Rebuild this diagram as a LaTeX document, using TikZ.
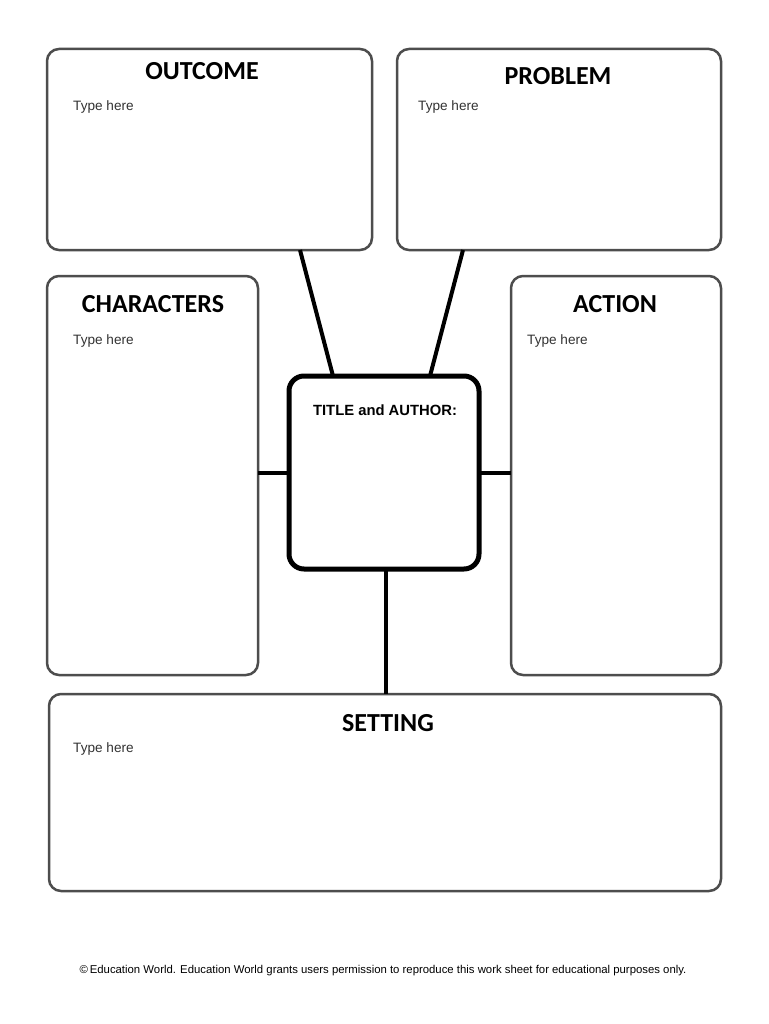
\documentclass[tikz,border=0pt]{standalone}
\usepackage{fontspec}
\setmainfont{Liberation Sans}
\newfontfamily\headfont{Carlito}
\usetikzlibrary{calc}
\definecolor{boxgray}{HTML}{4D4D4D}
\definecolor{txtgray}{HTML}{333333}
\tikzset{
  panel/.style={draw=boxgray, line width=2.5pt, rounded corners=12pt, inner sep=0pt, outer sep=0pt, fill=white},
  centerbox/.style={draw=black, line width=5pt, rounded corners=15pt, inner sep=0pt, outer sep=0pt, fill=white},
  conn/.style={draw=black, line width=4pt},
  heading/.style={anchor=base, inner sep=0pt, font=\headfont\bfseries\fontsize{26}{30}\selectfont},
  typehere/.style={anchor=base west, inner sep=0pt, text=txtgray, font=\fontsize{13.6}{16}\selectfont},
}
\begin{document}
\begin{tikzpicture}[x=1pt,y=-1pt]
\fill[white] (0,0) rectangle (768,1024);
\useasboundingbox (0,0) rectangle (768,1024);
% panels
\node[panel, minimum width=325pt, minimum height=201pt] (outcome) at (209.5,149.5) {};
\node[panel, minimum width=324pt, minimum height=201pt] (problem) at (559,149.5) {};
\node[panel, minimum width=211pt, minimum height=399pt] (characters) at (152.5,475.5) {};
\node[panel, minimum width=210pt, minimum height=399pt] (action) at (616,475.5) {};
\node[panel, minimum width=672pt, minimum height=197pt] (setting) at (385,792.5) {};
\node[centerbox, minimum width=190pt, minimum height=193pt] (title) at (384,472.5) {};
% connectors
\draw[conn] ([xshift=253pt]outcome.south west) -- ([xshift=44pt]title.north west);
\draw[conn] ([xshift=66pt]problem.south west) -- ([xshift=141pt]title.north west);
\draw[conn] (title.west) -- (title.west -| characters.east);
\draw[conn] (title.east) -- (title.east -| action.west);
\draw[conn] ([xshift=2pt]title.south) -- ([xshift=2pt]title.south |- setting.north);
% headings
\node[heading] (h1) at (202,80) {OUTCOME};
\node[heading] (h2) at (558,85) {PROBLEM};
\node[heading] (h3) at (153,312) {CHARACTERS};
\node[heading] (h4) at (615,312) {ACTION};
\node[heading] (h5) at (388,731) {SETTING};
% type here
\node[typehere] (t1) at (73,111) {Type here};
\node[typehere] (t2) at (418,111) {Type here};
\node[typehere] (t3) at (73,344) {Type here};
\node[typehere] (t4) at (527,344) {Type here};
\node[typehere] (t5) at (73,752) {Type here};
% title
\node[anchor=base, inner sep=0pt, font=\bfseries\fontsize{14.8}{17}\selectfont] (tt) at (385,415) {TITLE and AUTHOR:};
% footer
\node[anchor=base, inner sep=0pt, font=\fontsize{11.35}{13}\selectfont] (foot) at (383,973) {\textcopyright\,Education World. Education World grants users permission to reproduce this work sheet for educational purposes only.};
\end{tikzpicture}
\end{document}
